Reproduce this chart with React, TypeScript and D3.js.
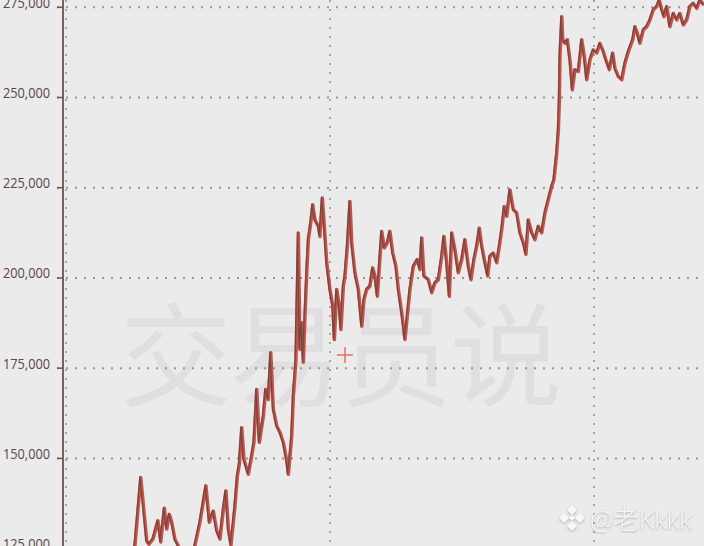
// App.tsx
import React from "react";
import * as d3 from "d3";

// 时间索引（天）与价格
const days = [
  31, 34.5, 37.4, 40.4, 41.5, 43.5, 46, 47.4, 49.2, 50.4, 51.7, 52.9, 54.5, 56, 59.5, 62.5, 64.5, 67, 70, 71.7,
  73.7, 75.4, 77, 78.7, 80, 81.2, 82.5, 84.5, 85.7, 86.7, 87.9, 89, 91.2, 92.9, 94, 95.4, 96.7, 98.7, 99.9, 101.2,
  102.4, 103.7, 105.4, 107, 108.7, 110.4, 111.2, 112.9, 113.7, 115, 116.2, 117, 117.9, 118.7, 119.5, 120.4, 121.2,
  122.4, 123.4, 124.5, 126.2, 127, 128.2, 129.2, 130.4, 132, 133.4, 134.2, 135.4, 136.7, 137.5, 138.7, 139.5, 140.7,
  142, 142.9, 144.5, 146.2, 147.9, 149, 150.4, 152, 153.4, 154.5, 155.7, 156.7, 157.9, 159.2, 160.7, 162, 163.4, 165,
  166.2, 167.9, 169.5, 172, 173.7, 175.7, 177, 177.9, 179, 181.2, 182.9, 184.5, 186.2, 187.9, 189, 190.4, 191.7,
  192.9, 194.5, 196.2, 197.9, 199.5, 201.2, 202.5, 204, 205.4, 206.7, 207.9, 209.5, 210.9, 212, 213.7, 215.4, 216.7,
  217.9, 219.2, 220.4, 222, 223.7, 225.4, 227, 228.7, 230, 231.2, 232.9, 234.5, 236.2, 237.9, 239.5, 241.2, 242.9,
  244, 245.4, 246.2, 246.7, 247, 247.9, 248.4, 249.5, 250.7, 252, 253.2, 254.5, 256.2, 257.9, 259.2, 260.4, 262,
  263.7, 265.4, 267, 268.7, 270, 271.7, 273.4, 274.5, 276.2, 277.9, 279.5, 281.2, 283.4, 284.5, 285.7, 287, 288.7,
  290.4, 292, 293.7, 295.4, 296.7, 297.9, 299, 300.4, 302, 303.7, 305.4, 307, 308.7, 310.4, 312, 313.7, 315.4, 317,
  319,
];

const price = [
  120000, 125900, 144700, 127100, 126200, 127600, 132700, 126800, 136200, 130400, 134500, 132300, 127600, 125900,
  122000, 123000, 125900, 132300, 142400, 132300, 135400, 129900, 127600, 135900, 141000, 130400, 125900, 136800,
  145100, 148400, 158500, 149700, 145600, 150700, 154400, 169100, 154400, 161700, 169100, 166300, 179300, 163600,
  159000, 157200, 154400, 149300, 145600, 156200, 167300, 177400, 212500, 180200, 187600, 176600, 189400, 201500,
  210600, 215300, 220300, 216100, 214300, 211500, 222200, 214300, 204200, 196800, 192200, 182900, 196800, 192200,
  185700, 197700, 200500, 208800, 221200, 209700, 201400, 196800, 186600, 194000, 196800, 197700, 202800, 200500,
  194900, 203200, 212900, 208300, 209700, 212900, 206900, 203200, 196800, 190300, 182900, 196800, 203200, 205100,
  202300, 211100, 200500, 199500, 195900, 198600, 199500, 206000, 211500, 204200, 194900, 212500, 207800, 201400,
  205100, 210600, 203200, 199500, 205100, 208800, 213800, 208800, 204200, 200500, 206000, 206900, 204200, 208800,
  213400, 219800, 217100, 224400, 218900, 218000, 212500, 209700, 206500, 216100, 212500, 210600, 214300, 212500,
  218000, 221700, 225400, 227200, 234700, 241000, 249400, 261300, 272400, 266000, 265000, 266000, 260400, 252100,
  257700, 257200, 266000, 261300, 254900, 260400, 263200, 262300, 265000, 262700, 260400, 257700, 262300, 258100,
  255800, 254900, 259500, 262700, 266000, 269600, 267800, 265000, 268700, 269600, 271500, 274300, 275200, 277000,
  274300, 272400, 275200, 269600, 273300, 271500, 273300, 270100, 271500, 275200, 276100, 274700, 277000, 275600,
];

const yTicks = [125000, 150000, 175000, 200000, 225000, 250000, 275000];
const xGrid = [0, 132, 264];
const watermark = "交易员说";
const handle = "@老Kkkk";

const W = 704;
const H = 546;

const App = () => {
  const x = d3.scaleLinear().domain([0, 319]).range([66, 704]);
  const y = d3.scaleLinear().domain([125000, 275000]).range([548.6, 7.3]);
  const axisX = 63;

  const pts = days.map((d, i) => [d, price[i]] as [number, number]);
  const line = d3
    .line<[number, number]>()
    .x((d) => x(d[0]))
    .y((d) => y(d[1]));
  const path = line(pts) || "";
  const fmt = d3.format(",");

  return (
    <div style={{ position: "fixed", left: 0, top: 0, width: W, height: H }}>
      <svg width={W} height={H} style={{ display: "block" }}>
        <defs>
          <clipPath id="plot">
            <rect x={axisX + 1} y={0} width={W - axisX} height={H} />
          </clipPath>
          <filter id="shadow" x="-20%" y="-20%" width="140%" height="140%">
            <feDropShadow dx="0" dy="1" stdDeviation="1.2" floodColor="#8a8a8a" floodOpacity="0.7" />
          </filter>
        </defs>
        <rect width={W} height={H} fill="#ebebec" />

        {/* 水印 */}
        <text
          x={340}
          y={398}
          textAnchor="middle"
          fontFamily="'Noto Sans CJK SC'"
          fontSize={112}
          fontWeight={400}
          fill="#dfdfe1"
          letterSpacing={-2}
        >
          {watermark}
        </text>

        {/* 网格 */}
        {yTicks.map((t) => (
          <line
            key={"h" + t}
            x1={57}
            x2={W}
            y1={y(t)}
            y2={y(t)}
            stroke="#a4918b"
            strokeWidth={2}
            strokeDasharray="2,7"
          />
        ))}
        {xGrid.map((t) => (
          <line
            key={"v" + t}
            x1={x(t)}
            x2={x(t)}
            y1={0}
            y2={H}
            stroke="#a4918b"
            strokeWidth={1.6}
            strokeDasharray="2,7"
          />
        ))}

        {/* y 轴 */}
        <line x1={axisX} x2={axisX} y1={0} y2={H} stroke="#6a5550" strokeWidth={1.8} />
        {yTicks.map((t) => (
          <g key={"t" + t}>
            <line x1={57} x2={axisX} y1={y(t)} y2={y(t)} stroke="#6a5550" strokeWidth={1.5} />
            <text
              x={50}
              y={y(t) + 0.5}
              textAnchor="end"
              fontFamily="'Open Sans'"
              fontSize={14.5}
              fill="#5a4642"
              textLength={47}
              lengthAdjust="spacingAndGlyphs"
            >
              {fmt(t)}
            </text>
          </g>
        ))}

        {/* 价格线 */}
        <g clipPath="url(#plot)">
          <path d={path} fill="none" stroke="#c93a2d" strokeWidth={3.4} strokeLinejoin="round" opacity={0.88} />
          <path
            d={path}
            fill="none"
            stroke="#554846"
            strokeWidth={1.3}
            strokeLinejoin="round"
            opacity={0.8}
            transform="translate(-0.9,-0.7)"
          />
        </g>

        {/* 十字光标 */}
        <g stroke="#e0796b" strokeWidth={1.6}>
          <line x1={337} x2={353} y1={355} y2={355} />
          <line x1={345} x2={345} y1={347} y2={363} />
        </g>

        {/* 署名 */}
        <g filter="url(#shadow)" fill="#f7f7f7">
          <g transform="translate(572,518)">
            <path d="M0,-13 L5,-8 L0,-3 L-5,-8 Z" />
            <path d="M-8,-5 L-3,0 L-8,5 L-13,0 Z" />
            <path d="M8,-5 L13,0 L8,5 L3,0 Z" />
            <path d="M0,-3 L3,0 L0,3 L-3,0 Z" />
            <path d="M0,3 L5,8 L0,13 L-5,8 Z" />
          </g>
          <text x={590} y={529} fontFamily="'Open Sans','Noto Sans CJK SC'" fontSize={26} fontWeight={300}>
            {handle}
          </text>
        </g>
      </svg>
    </div>
  );
};

export default App;
